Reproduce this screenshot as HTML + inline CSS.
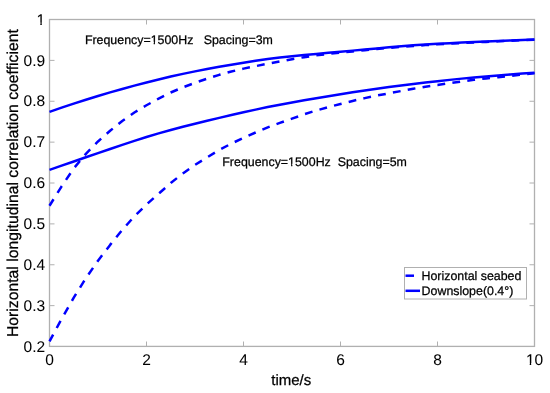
<!DOCTYPE html>
<html><head><meta charset="utf-8"><style>
html,body{margin:0;padding:0;background:#fff;}
svg{display:block;}
.tk text{stroke-width:0.05px;}
text{font-family:"Liberation Sans",Arial,sans-serif;fill:#000;text-rendering:geometricPrecision;stroke:#000;stroke-width:0.25px;}
</style></head><body>
<svg width="550" height="393" viewBox="0 0 550 393">
<defs><clipPath id="nf"><path clip-rule="evenodd" d="M-10,-10H560V403H-10ZM36.86,22.49H40.32V26.25H36.86ZM41.79,22.49H45.14V26.25H41.79ZM526.26,363.09H529.72V366.85H526.26ZM531.19,363.09H534.54V366.85H531.19ZM150.81,41.77H153.73V45.30H150.81ZM154.93,41.77H157.76V45.30H154.93ZM288.21,163.67H291.13V167.20H288.21ZM292.33,163.67H295.16V167.20H292.33Z"/></clipPath></defs>
<rect x="0" y="0" width="550" height="393" fill="#fff"/>
<rect x="49.5" y="19.5" width="485.0" height="326.9" fill="none" stroke="#b0b0b0" stroke-width="1.3"/>
<path d="M49.5,346.5V341.5M49.5,19.5V24.5M146.5,346.5V341.5M146.5,19.5V24.5M243.5,346.5V341.5M243.5,19.5V24.5M340.5,346.5V341.5M340.5,19.5V24.5M437.5,346.5V341.5M437.5,19.5V24.5M534.5,346.5V341.5M534.5,19.5V24.5M49.5,346.500H54.5M534.5,346.500H529.5M49.5,305.625H54.5M534.5,305.625H529.5M49.5,264.750H54.5M534.5,264.750H529.5M49.5,223.875H54.5M534.5,223.875H529.5M49.5,183.000H54.5M534.5,183.000H529.5M49.5,142.125H54.5M534.5,142.125H529.5M49.5,101.250H54.5M534.5,101.250H529.5M49.5,60.375H54.5M534.5,60.375H529.5M49.5,19.500H54.5M534.5,19.500H529.5" stroke="#b0b0b0" stroke-width="1" fill="none"/>
<g class="tk" font-size="15.5" clip-path="url(#nf)"><text x="45.1" y="346.15" dy="0.355em" text-anchor="end">0.2</text><text x="45.1" y="305.27" dy="0.355em" text-anchor="end">0.3</text><text x="45.1" y="264.40" dy="0.355em" text-anchor="end">0.4</text><text x="45.1" y="223.53" dy="0.355em" text-anchor="end">0.5</text><text x="45.1" y="182.65" dy="0.355em" text-anchor="end">0.6</text><text x="45.1" y="141.78" dy="0.355em" text-anchor="end">0.7</text><text x="45.1" y="100.90" dy="0.355em" text-anchor="end">0.8</text><text x="45.1" y="60.02" dy="0.355em" text-anchor="end">0.9</text><text x="45.1" y="19.15" dy="0.355em" text-anchor="end">1</text><text x="49.5" y="365.25" text-anchor="middle">0</text><text x="146.5" y="365.25" text-anchor="middle">2</text><text x="243.5" y="365.25" text-anchor="middle">4</text><text x="340.5" y="365.25" text-anchor="middle">6</text><text x="437.5" y="365.25" text-anchor="middle">8</text><text x="534.5" y="365.25" text-anchor="middle">10</text></g>
<text x="291.3" y="384.7" font-size="15" text-anchor="middle">time/s</text>
<text transform="translate(18.1,183.1) rotate(-90)" font-size="15.75" text-anchor="middle">Horizontal longitudinal correlation coefficient</text>
<g fill="none" stroke="#0000ff" stroke-width="2.5" stroke-linejoin="round">
<path d="M49.50,111.89 L61.62,107.67 L73.75,103.61 L85.88,99.72 L98.00,96.00 L110.12,92.41 L122.25,88.96 L134.38,85.65 L146.50,82.48 L158.62,79.44 L170.75,76.57 L182.88,73.88 L195.00,71.38 L207.12,69.04 L219.25,66.83 L231.38,64.72 L243.50,62.70 L255.62,60.78 L267.75,59.02 L279.88,57.48 L292.00,56.16 L304.12,55.00 L316.25,53.91 L328.38,52.81 L340.50,51.72 L352.62,50.63 L364.75,49.54 L376.88,48.44 L389.00,47.35 L401.12,46.30 L413.25,45.35 L425.38,44.52 L437.50,43.80 L449.62,43.14 L461.75,42.55 L473.88,41.99 L486.00,41.46 L498.12,40.95 L510.25,40.46 L522.38,40.01 L534.50,39.59"/>
<path d="M49.50,169.82 L61.62,165.64 L73.75,161.47 L85.88,157.29 L98.00,153.11 L110.12,148.95 L122.25,144.83 L134.38,140.83 L146.50,137.00 L158.62,133.36 L170.75,129.94 L182.88,126.74 L195.00,123.71 L207.12,120.77 L219.25,117.87 L231.38,115.02 L243.50,112.25 L255.62,109.60 L267.75,107.09 L279.88,104.71 L292.00,102.45 L304.12,100.29 L316.25,98.22 L328.38,96.21 L340.50,94.25 L352.62,92.32 L364.75,90.45 L376.88,88.67 L389.00,87.00 L401.12,85.44 L413.25,83.97 L425.38,82.56 L437.50,81.20 L449.62,79.88 L461.75,78.63 L473.88,77.47 L486.00,76.39 L498.12,75.38 L510.25,74.45 L522.38,73.58 L534.50,72.79"/>
<path d="M49.50,205.73 L53.55,199.24M57.53,192.89 L61.62,186.34 L61.81,186.07M65.99,179.87 L70.49,173.19M74.80,167.10 L79.93,160.95M84.71,155.24 L85.88,153.84 L90.19,149.44M95.39,144.14 L98.00,141.47 L101.17,138.67M106.72,133.78 L110.12,130.78 L112.77,128.63M118.51,123.99 L122.25,120.96 L124.81,119.18M130.84,114.98 L134.38,112.52 L137.46,110.67M143.76,106.89 L146.50,105.25 L150.61,103.01M157.04,99.50 L158.62,98.64 L164.05,95.90M170.58,92.60 L170.75,92.52 L177.79,89.51M184.53,86.72 L191.89,83.99M198.75,81.54 L206.15,78.98M213.09,76.76 L219.25,74.82 L220.57,74.46M227.59,72.55 L231.38,71.52 L235.16,70.61M242.23,68.92 L243.50,68.62 L249.88,67.32M257.00,65.87 L264.65,64.32M271.78,62.91 L279.45,61.42M286.60,60.18 L292.00,59.25 L294.30,58.85M301.45,57.62 L304.12,57.16 L309.16,56.40M316.34,55.32 L324.09,54.42M331.30,53.62 L339.06,52.82M346.28,52.07 L352.62,51.41 L354.04,51.26M361.25,50.51 L364.75,50.15 L369.02,49.73M376.24,49.02 L376.88,48.96 L384.01,48.32M391.23,47.68 L399.01,47.04M406.24,46.48 L413.25,45.95 L414.02,45.90M421.25,45.40 L425.38,45.12 L429.04,44.89M436.27,44.45 L437.50,44.37 L444.06,44.00M451.30,43.59 L459.09,43.18M466.33,42.82 L473.88,42.45 L474.13,42.44M481.37,42.09 L486.00,41.88 L489.16,41.73M496.40,41.40 L498.12,41.32 L504.20,41.05M511.44,40.72 L519.23,40.37M526.48,40.05 L534.27,39.71"/>
<path d="M49.50,341.36 L53.14,334.61M56.71,328.00 L60.55,320.89M64.22,314.35 L68.21,307.33M71.93,300.81 L73.75,297.61 L76.07,293.89M80.04,287.54 L84.31,280.70M88.45,274.47 L93.03,267.86M97.28,261.72 L98.00,260.68 L102.12,255.31M106.67,249.40 L110.12,244.90 L111.61,243.07M116.30,237.29 L121.34,231.06M126.23,225.46 L131.54,219.47M136.64,214.09 L142.37,208.54M147.74,203.44 L153.67,198.13M159.18,193.20 L165.17,187.96M170.73,183.10 L170.75,183.08 L176.93,178.14M182.70,173.54 L182.88,173.40 L189.18,168.99M195.21,164.79 L201.90,160.58M208.13,156.70 L214.89,152.63M221.23,148.96 L228.18,145.25M234.73,142.00 L241.87,138.70M248.52,135.69 L255.62,132.50 L255.69,132.47M262.41,129.61 L267.75,127.34 L269.67,126.63M276.51,124.12 L279.88,122.89 L283.89,121.48M290.76,119.06 L292.00,118.62 L298.16,116.45M305.03,114.06 L312.49,111.67M319.46,109.58 L327.00,107.49M334.03,105.65 L340.50,103.97 L341.61,103.69M348.66,101.93 L352.62,100.93 L356.26,100.08M363.33,98.43 L364.75,98.10 L370.98,96.80M378.09,95.35 L385.77,93.91M392.91,92.57 L400.59,91.13M407.72,89.80 L413.25,88.77 L415.41,88.39M422.56,87.16 L425.38,86.68 L430.28,85.97M437.46,84.94 L437.50,84.94 L445.19,83.86M452.38,82.86 L460.11,81.77M467.29,80.77 L473.88,79.85 L475.03,79.71M482.23,78.86 L486.00,78.42 L489.99,78.00M497.20,77.24 L498.12,77.15 L504.96,76.43M512.18,75.67 L519.94,74.86M527.15,74.10 L534.50,73.33"/>
</g>
<g font-size="12.4" clip-path="url(#nf)">
<text x="84.9" y="43.7" xml:space="preserve">Frequency=1500Hz   Spacing=3m</text>
<text x="222.3" y="165.6" xml:space="preserve">Frequency=1500Hz  Spacing=5m</text>
</g>
<rect x="404.5" y="267.5" width="122" height="31.5" fill="#fff" stroke="#b0b0b0" stroke-width="1"/>
<path d="M405.5,275.7H414" stroke="#0000ff" stroke-width="2.5"/>
<path d="M405.5,290.8H420" stroke="#0000ff" stroke-width="2.5"/>
<g font-size="12.4">
<text x="421.5" y="279.7">Horizontal seabed</text>
<text x="421.6" y="294.8">Downslope(0.4°)</text>
</g>
</svg>
</body></html>
